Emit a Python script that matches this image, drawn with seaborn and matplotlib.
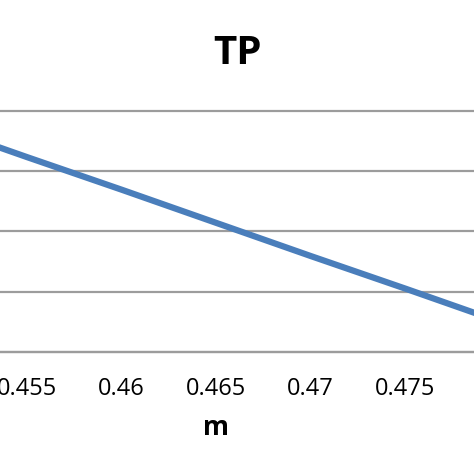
import matplotlib
matplotlib.use("Agg")
import matplotlib.pyplot as plt
import seaborn as sns
import pandas as pd

m_values = [0.450, 0.455, 0.460, 0.465, 0.470, 0.475, 0.480]
tp_values = [3.78, 3.23, 2.69, 2.14, 1.59, 1.05, 0.50]
x_ticks = [0.455, 0.460, 0.465, 0.470, 0.475]
x_tick_labels = ["0.455", "0.46", "0.465", "0.47", "0.475"]
y_ticks = [0, 1, 2, 3, 4]

sns.set_theme(style="white")
plt.rcParams['font.family'] = ['Open Sans', 'DejaVu Sans']

df = pd.DataFrame({"m": m_values, "TP": tp_values})

fig = plt.figure(figsize=(4.74, 4.74), dpi=100)
ax = fig.add_axes([-68/474, (474-352)/474, 568/474, (352-110.5)/474])
sns.lineplot(data=df, x="m", y="TP", ax=ax, color="#4a7ebb", linewidth=4.5)
ax.set_xlim(0.450, 0.480)
ax.set_ylim(0, 4)
ax.set_yticks(y_ticks)
ax.set_yticklabels([])
ax.set_xticks(x_ticks)
ax.set_xticklabels(x_tick_labels, fontsize=17, color="black")
ax.tick_params(axis='x', length=0, pad=18)
ax.tick_params(axis='y', length=0)
ax.grid(axis='y', color="#9c9c9c", linewidth=1.6)
for gl in ax.get_ygridlines():
    gl.set_clip_on(False)
ax.set_axisbelow(True)
for s in ["top", "right", "left"]:
    ax.spines[s].set_visible(False)
ax.spines["bottom"].set_color("#9c9c9c")
ax.spines["bottom"].set_linewidth(1.6)
ax.set_xlabel("")
ax.set_ylabel("")

fig.text(216/474, (474-435)/474, "m", ha="center", va="baseline",
         fontsize=19, fontweight="bold", color="black")
fig.text(237/474, (474-64)/474, "TP", ha="center", va="baseline",
         fontsize=29, fontweight="bold", color="black")

fig.savefig("out.png", dpi=100)
